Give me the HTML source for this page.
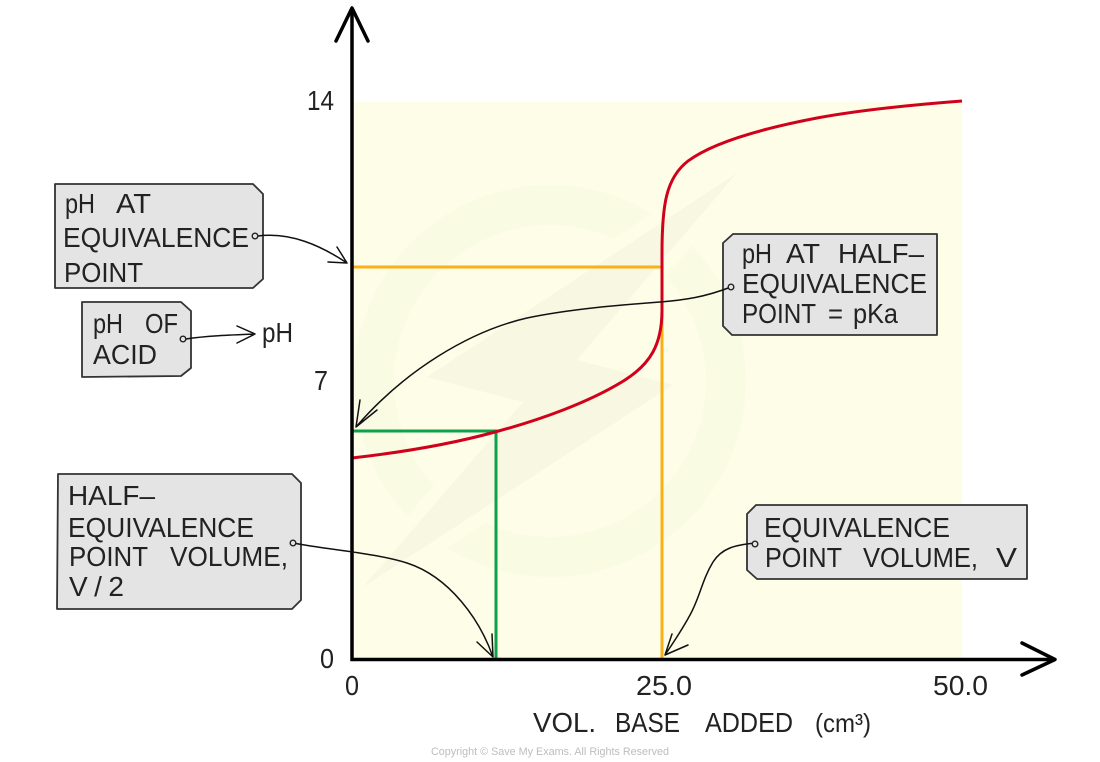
<!DOCTYPE html>
<html>
<head>
<meta charset="utf-8">
<style>
html,body{margin:0;padding:0;background:#fff}
svg{display:block}
text{font-family:"Liberation Sans",sans-serif;font-size:28px;fill:#222}
</style>
</head>
<body>
<svg width="1100" height="762" viewBox="0 0 1100 762" xmlns="http://www.w3.org/2000/svg">
<rect x="352" y="102" width="610" height="557" fill="#fefde8"/>
<circle cx="550" cy="381" r="176" fill="none" stroke="#f9fce3" stroke-width="40"/>
<polygon points="737,173 427,377 523,402 363,587 673,385 577,360" fill="#fefde8" stroke="#fefde8" stroke-width="26" stroke-linejoin="round"/>
<polygon points="737,173 427,377 523,402 363,587 673,385 577,360" fill="#f8f7e2"/>

<path d="M352,267H662V659" fill="none" stroke="#fbb017" stroke-width="3"/>
<path d="M352,431H496V659" fill="none" stroke="#0ca14a" stroke-width="3"/>
<path d="M352,458C405,452 455,443 495,432C540,420 590,402 625,380C650,364 662,345 662,310L662,253C662,205 666,178 688,161C715,141 770,127 817,118C860,110 910,105 962,101" fill="none" stroke="#d0021b" stroke-width="3"/>

<path d="M352,8V659.5H1055" fill="none" stroke="#000" stroke-width="3.5"/>
<path d="M336,41L352,8L368,41" fill="none" stroke="#000" stroke-width="3.5" stroke-linecap="round" stroke-linejoin="round"/>
<path d="M1022,643L1055,659.5L1022,675" fill="none" stroke="#000" stroke-width="3.5" stroke-linecap="round" stroke-linejoin="round"/>

<g fill="#e4e4e4" stroke="#333" stroke-width="1.8" stroke-linejoin="round">
<polygon points="55,184 253,184 263,194 263,279 253,288 55,288"/>
<polygon points="82,302 181,302 191,311 191,368 181,376 82,377"/>
<polygon points="58,474 292,474 301,483 301,600 292,609 57,609"/>
<polygon points="756,505 1027,505 1027,579 757,579 747,570 747,514"/>
<polygon points="733,234 937,234 937,335 732,335 723,326 723,243"/>
</g>

<g fill="none" stroke="#111" stroke-width="1.5" stroke-linecap="round" stroke-linejoin="round">
<path d="M258,236C290,232 320,245 347,263M337,247L347,263L328,262"/>
<path d="M186,339C205,336 230,335 255,334M237,326L255,334L237,343"/>
<path d="M731,287C705,297 685,300 660,302C620,305 570,309 527,318C470,331 405,370 356,427M360,400L356,427L377,410"/>
<path d="M293,543C330,550 375,553 407,563C450,577 480,620 493,657M492,634L493,657L477,642"/>
<path d="M755,543C735,545 722,548 713,562C702,580 700,597 690,615C682,630 673,643 665,655M672,634L665,655L688,645"/>
</g>
<g fill="#e4e4e4" stroke="#222" stroke-width="1.4">
<circle cx="255" cy="236" r="2.8"/>
<circle cx="183" cy="339" r="2.8"/>
<circle cx="731" cy="287" r="2.8"/>
<circle cx="293" cy="543" r="2.8"/>
<circle cx="755" cy="544" r="2.8"/>
</g>

<text x="65" y="213" textLength="30" lengthAdjust="spacingAndGlyphs">pH</text>
<text x="116" y="213" textLength="35" lengthAdjust="spacingAndGlyphs">AT</text>
<text x="63" y="247" textLength="186" lengthAdjust="spacingAndGlyphs">EQUIVALENCE</text>
<text x="64" y="282" textLength="79" lengthAdjust="spacingAndGlyphs">POINT</text>
<text x="93" y="333" textLength="30" lengthAdjust="spacingAndGlyphs">pH</text>
<text x="145" y="333" textLength="33" lengthAdjust="spacingAndGlyphs">OF</text>
<text x="93" y="364" textLength="64" lengthAdjust="spacingAndGlyphs">ACID</text>
<text x="262" y="342" textLength="31" lengthAdjust="spacingAndGlyphs">pH</text>
<text x="68" y="505" textLength="87" lengthAdjust="spacingAndGlyphs">HALF–</text>
<text x="68" y="537" textLength="186" lengthAdjust="spacingAndGlyphs">EQUIVALENCE</text>
<text x="69" y="566" textLength="79" lengthAdjust="spacingAndGlyphs">POINT</text>
<text x="170" y="566" textLength="118" lengthAdjust="spacingAndGlyphs">VOLUME,</text>
<text x="69" y="596" textLength="55" lengthAdjust="spacing">V/2</text>
<text x="764" y="537" textLength="186" lengthAdjust="spacingAndGlyphs">EQUIVALENCE</text>
<text x="765" y="567" textLength="77" lengthAdjust="spacingAndGlyphs">POINT</text>
<text x="863" y="567" textLength="115" lengthAdjust="spacingAndGlyphs">VOLUME,</text>
<text x="996" y="567" textLength="21" lengthAdjust="spacingAndGlyphs">V</text>
<text x="742" y="263" textLength="30" lengthAdjust="spacingAndGlyphs">pH</text>
<text x="786" y="263" textLength="34" lengthAdjust="spacingAndGlyphs">AT</text>
<text x="838" y="263" textLength="86" lengthAdjust="spacingAndGlyphs">HALF–</text>
<text x="742" y="293" textLength="185" lengthAdjust="spacingAndGlyphs">EQUIVALENCE</text>
<text x="742" y="323" textLength="74" lengthAdjust="spacingAndGlyphs">POINT</text>
<text x="828" y="323" textLength="15" lengthAdjust="spacingAndGlyphs">=</text>
<text x="853" y="323" textLength="45" lengthAdjust="spacingAndGlyphs">pKa</text>
<text x="307" y="110" textLength="27" lengthAdjust="spacingAndGlyphs">14</text>
<text x="314" y="390" textLength="14" lengthAdjust="spacingAndGlyphs">7</text>
<text x="320" y="668" textLength="14" lengthAdjust="spacingAndGlyphs">0</text>
<text x="345" y="695" textLength="14" lengthAdjust="spacingAndGlyphs">0</text>
<text x="636" y="695" textLength="56" lengthAdjust="spacingAndGlyphs">25.0</text>
<text x="933" y="695" textLength="55" lengthAdjust="spacingAndGlyphs">50.0</text>
<text x="533" y="732" textLength="63" lengthAdjust="spacingAndGlyphs">VOL.</text>
<text x="615" y="732" textLength="65" lengthAdjust="spacingAndGlyphs">BASE</text>
<text x="705" y="732" textLength="88" lengthAdjust="spacingAndGlyphs">ADDED</text>
<text x="815" y="732" textLength="56" lengthAdjust="spacingAndGlyphs" style="font-size:26px">(cm³)</text>
<text x="431" y="755" textLength="238" lengthAdjust="spacingAndGlyphs" style="font-size:11px;fill:#bdbdbd">Copyright © Save My Exams. All Rights Reserved</text>
</svg>
</body>
</html>
